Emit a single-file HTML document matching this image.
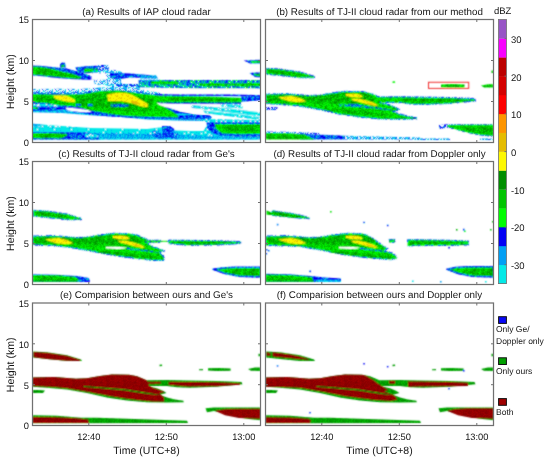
<!DOCTYPE html><html><head><meta charset="utf-8"><style>html,body{margin:0;padding:0;background:#fff;overflow:hidden}svg{display:block}text{text-rendering:geometricPrecision;font-family:"Liberation Sans",Arial,sans-serif;fill:#141414}</style></head><body>
<svg width="550" height="461" viewBox="0 0 550 461">
<rect width="550" height="461" fill="#fff"/>
<defs><pattern id="gm" patternUnits="userSpaceOnUse" x="0" y="0" width="17" height="17"><rect width="17" height="17" fill="#02fd02"/><path fill="#01c501" d="M0 0h1v1h-1zM3 0h1v1h-1zM8 0h1v1h-1zM9 0h1v1h-1zM13 0h1v1h-1zM16 0h1v1h-1zM2 1h1v1h-1zM3 1h1v1h-1zM6 1h1v1h-1zM7 1h1v1h-1zM9 1h1v1h-1zM10 1h1v1h-1zM13 1h1v1h-1zM14 1h1v1h-1zM15 1h1v1h-1zM0 2h1v1h-1zM1 2h1v1h-1zM5 2h1v1h-1zM8 2h1v1h-1zM9 2h1v1h-1zM16 2h1v1h-1zM5 3h1v1h-1zM6 3h1v1h-1zM9 3h1v1h-1zM13 3h1v1h-1zM1 4h1v1h-1zM3 4h1v1h-1zM4 4h1v1h-1zM8 4h1v1h-1zM9 4h1v1h-1zM15 4h1v1h-1zM3 5h1v1h-1zM6 5h1v1h-1zM15 5h1v1h-1zM1 6h1v1h-1zM4 6h1v1h-1zM5 6h1v1h-1zM10 6h1v1h-1zM11 6h1v1h-1zM12 6h1v1h-1zM1 7h1v1h-1zM4 7h1v1h-1zM5 7h1v1h-1zM6 7h1v1h-1zM8 7h1v1h-1zM9 7h1v1h-1zM11 7h1v1h-1zM12 7h1v1h-1zM13 7h1v1h-1zM15 7h1v1h-1zM16 7h1v1h-1zM2 8h1v1h-1zM4 8h1v1h-1zM5 8h1v1h-1zM7 8h1v1h-1zM8 8h1v1h-1zM11 8h1v1h-1zM14 8h1v1h-1zM15 8h1v1h-1zM16 8h1v1h-1zM1 9h1v1h-1zM5 9h1v1h-1zM9 9h1v1h-1zM11 9h1v1h-1zM13 9h1v1h-1zM15 9h1v1h-1zM16 9h1v1h-1zM2 10h1v1h-1zM4 10h1v1h-1zM8 10h1v1h-1zM9 10h1v1h-1zM11 10h1v1h-1zM15 10h1v1h-1zM3 11h1v1h-1zM4 11h1v1h-1zM5 11h1v1h-1zM8 11h1v1h-1zM9 11h1v1h-1zM11 11h1v1h-1zM13 11h1v1h-1zM16 11h1v1h-1zM0 12h1v1h-1zM1 12h1v1h-1zM4 12h1v1h-1zM5 12h1v1h-1zM9 12h1v1h-1zM14 12h1v1h-1zM16 12h1v1h-1zM0 13h1v1h-1zM2 13h1v1h-1zM6 13h1v1h-1zM7 13h1v1h-1zM8 13h1v1h-1zM13 13h1v1h-1zM15 13h1v1h-1zM16 13h1v1h-1zM0 14h1v1h-1zM4 14h1v1h-1zM7 14h1v1h-1zM9 14h1v1h-1zM10 14h1v1h-1zM11 14h1v1h-1zM16 14h1v1h-1zM2 15h1v1h-1zM4 15h1v1h-1zM5 15h1v1h-1zM7 15h1v1h-1zM8 15h1v1h-1zM11 15h1v1h-1zM12 15h1v1h-1zM13 15h1v1h-1zM15 15h1v1h-1zM0 16h1v1h-1zM3 16h1v1h-1zM4 16h1v1h-1zM6 16h1v1h-1zM8 16h1v1h-1zM9 16h1v1h-1zM11 16h1v1h-1zM14 16h1v1h-1zM15 16h1v1h-1z"/><path fill="#008e00" d="M4 0h1v1h-1zM5 0h1v1h-1zM11 0h1v1h-1zM14 0h1v1h-1zM8 1h1v1h-1zM11 1h1v1h-1zM12 1h1v1h-1zM16 1h1v1h-1zM13 2h1v1h-1zM3 3h1v1h-1zM8 3h1v1h-1zM14 3h1v1h-1zM15 3h1v1h-1zM2 4h1v1h-1zM10 4h1v1h-1zM16 4h1v1h-1zM2 5h1v1h-1zM12 5h1v1h-1zM14 5h1v1h-1zM2 6h1v1h-1zM3 6h1v1h-1zM9 6h1v1h-1zM1 8h1v1h-1zM3 8h1v1h-1zM6 8h1v1h-1zM10 8h1v1h-1zM8 9h1v1h-1zM7 10h1v1h-1zM2 11h1v1h-1zM7 11h1v1h-1zM12 11h1v1h-1zM12 12h1v1h-1zM15 14h1v1h-1zM10 15h1v1h-1zM5 16h1v1h-1zM13 16h1v1h-1z"/></pattern><pattern id="gd" patternUnits="userSpaceOnUse" x="0" y="0" width="17" height="17"><rect width="17" height="17" fill="#01c501"/><path fill="#02fd02" d="M2 0h1v1h-1zM3 0h1v1h-1zM3 1h1v1h-1zM4 1h1v1h-1zM12 1h1v1h-1zM13 4h1v1h-1zM2 5h1v1h-1zM7 5h1v1h-1zM15 5h1v1h-1zM2 6h1v1h-1zM4 6h1v1h-1zM6 6h1v1h-1zM13 6h1v1h-1zM16 6h1v1h-1zM3 7h1v1h-1zM5 7h1v1h-1zM0 8h1v1h-1zM12 8h1v1h-1zM15 8h1v1h-1zM16 8h1v1h-1zM1 9h1v1h-1zM0 10h1v1h-1zM1 10h1v1h-1zM3 10h1v1h-1zM6 10h1v1h-1zM4 11h1v1h-1zM8 11h1v1h-1zM0 12h1v1h-1zM2 12h1v1h-1zM6 12h1v1h-1zM12 12h1v1h-1zM16 12h1v1h-1zM9 13h1v1h-1zM14 13h1v1h-1zM4 15h1v1h-1zM9 15h1v1h-1zM10 15h1v1h-1zM4 16h1v1h-1zM8 16h1v1h-1z"/><path fill="#008e00" d="M7 0h1v1h-1zM11 0h1v1h-1zM12 0h1v1h-1zM13 0h1v1h-1zM1 1h1v1h-1zM2 1h1v1h-1zM5 1h1v1h-1zM6 1h1v1h-1zM7 1h1v1h-1zM11 1h1v1h-1zM13 1h1v1h-1zM14 1h1v1h-1zM15 1h1v1h-1zM1 2h1v1h-1zM8 2h1v1h-1zM11 2h1v1h-1zM14 2h1v1h-1zM16 2h1v1h-1zM1 3h1v1h-1zM3 3h1v1h-1zM6 3h1v1h-1zM10 3h1v1h-1zM11 3h1v1h-1zM12 3h1v1h-1zM14 3h1v1h-1zM16 3h1v1h-1zM1 4h1v1h-1zM4 4h1v1h-1zM5 4h1v1h-1zM8 4h1v1h-1zM9 4h1v1h-1zM10 4h1v1h-1zM0 5h1v1h-1zM4 5h1v1h-1zM5 5h1v1h-1zM10 5h1v1h-1zM11 5h1v1h-1zM13 5h1v1h-1zM16 5h1v1h-1zM0 6h1v1h-1zM7 6h1v1h-1zM9 6h1v1h-1zM10 6h1v1h-1zM12 6h1v1h-1zM15 6h1v1h-1zM0 7h1v1h-1zM4 7h1v1h-1zM6 7h1v1h-1zM13 7h1v1h-1zM14 7h1v1h-1zM16 7h1v1h-1zM1 8h1v1h-1zM3 8h1v1h-1zM5 8h1v1h-1zM6 8h1v1h-1zM7 8h1v1h-1zM9 8h1v1h-1zM11 8h1v1h-1zM14 8h1v1h-1zM0 9h1v1h-1zM3 9h1v1h-1zM7 9h1v1h-1zM8 9h1v1h-1zM9 9h1v1h-1zM14 9h1v1h-1zM15 9h1v1h-1zM2 10h1v1h-1zM5 10h1v1h-1zM7 10h1v1h-1zM8 10h1v1h-1zM9 10h1v1h-1zM11 10h1v1h-1zM12 10h1v1h-1zM14 10h1v1h-1zM1 11h1v1h-1zM2 11h1v1h-1zM5 11h1v1h-1zM7 11h1v1h-1zM10 11h1v1h-1zM11 11h1v1h-1zM14 11h1v1h-1zM16 11h1v1h-1zM3 12h1v1h-1zM7 12h1v1h-1zM8 12h1v1h-1zM9 12h1v1h-1zM10 12h1v1h-1zM13 12h1v1h-1zM14 12h1v1h-1zM1 13h1v1h-1zM3 13h1v1h-1zM4 13h1v1h-1zM6 13h1v1h-1zM7 13h1v1h-1zM8 13h1v1h-1zM1 14h1v1h-1zM2 14h1v1h-1zM3 14h1v1h-1zM5 14h1v1h-1zM7 14h1v1h-1zM12 14h1v1h-1zM13 14h1v1h-1zM14 14h1v1h-1zM15 14h1v1h-1zM16 14h1v1h-1zM5 15h1v1h-1zM7 15h1v1h-1zM8 15h1v1h-1zM14 15h1v1h-1zM15 15h1v1h-1zM16 15h1v1h-1zM2 16h1v1h-1zM9 16h1v1h-1zM11 16h1v1h-1zM13 16h1v1h-1zM15 16h1v1h-1z"/></pattern><pattern id="gk" patternUnits="userSpaceOnUse" x="0" y="0" width="13" height="13"><rect width="13" height="13" fill="#008e00"/><path fill="#01c501" d="M0 0h1v1h-1zM2 0h1v1h-1zM5 0h1v1h-1zM6 0h1v1h-1zM8 0h1v1h-1zM9 0h1v1h-1zM2 1h1v1h-1zM8 1h1v1h-1zM11 1h1v1h-1zM12 1h1v1h-1zM6 2h1v1h-1zM11 2h1v1h-1zM12 2h1v1h-1zM0 3h1v1h-1zM4 3h1v1h-1zM6 3h1v1h-1zM7 3h1v1h-1zM3 4h1v1h-1zM9 4h1v1h-1zM12 4h1v1h-1zM0 5h1v1h-1zM3 5h1v1h-1zM6 5h1v1h-1zM7 5h1v1h-1zM10 5h1v1h-1zM12 5h1v1h-1zM1 6h1v1h-1zM6 6h1v1h-1zM7 6h1v1h-1zM9 6h1v1h-1zM10 6h1v1h-1zM0 7h1v1h-1zM1 7h1v1h-1zM3 7h1v1h-1zM6 7h1v1h-1zM4 8h1v1h-1zM5 8h1v1h-1zM9 8h1v1h-1zM12 8h1v1h-1zM2 9h1v1h-1zM6 9h1v1h-1zM9 9h1v1h-1zM10 9h1v1h-1zM0 10h1v1h-1zM3 10h1v1h-1zM4 10h1v1h-1zM5 10h1v1h-1zM6 10h1v1h-1zM8 10h1v1h-1zM9 10h1v1h-1zM11 10h1v1h-1zM1 11h1v1h-1zM2 11h1v1h-1zM4 11h1v1h-1zM5 11h1v1h-1zM8 11h1v1h-1zM9 11h1v1h-1zM10 11h1v1h-1zM1 12h1v1h-1zM2 12h1v1h-1zM6 12h1v1h-1zM7 12h1v1h-1zM9 12h1v1h-1zM12 12h1v1h-1z"/><path fill="#02fd02" d="M11 0h1v1h-1zM0 1h1v1h-1zM1 2h1v1h-1zM8 2h1v1h-1zM2 3h1v1h-1zM5 5h1v1h-1zM11 6h1v1h-1zM7 7h1v1h-1zM2 8h1v1h-1zM10 8h1v1h-1zM4 9h1v1h-1zM1 10h1v1h-1zM6 11h1v1h-1zM12 11h1v1h-1zM5 12h1v1h-1z"/></pattern><pattern id="bs" patternUnits="userSpaceOnUse" x="0" y="0" width="13" height="13"><path fill="#0300f4" d="M0 0h1v1h-1zM1 0h1v1h-1zM2 0h1v1h-1zM3 0h1v1h-1zM4 0h1v1h-1zM5 0h1v1h-1zM9 0h1v1h-1zM10 0h1v1h-1zM11 0h1v1h-1zM12 0h1v1h-1zM0 1h1v1h-1zM1 1h1v1h-1zM6 1h1v1h-1zM7 1h1v1h-1zM12 1h1v1h-1zM2 2h1v1h-1zM3 2h1v1h-1zM4 2h1v1h-1zM5 2h1v1h-1zM8 2h1v1h-1zM9 2h1v1h-1zM1 3h1v1h-1zM2 3h1v1h-1zM4 3h1v1h-1zM5 3h1v1h-1zM6 3h1v1h-1zM8 3h1v1h-1zM9 3h1v1h-1zM11 3h1v1h-1zM12 3h1v1h-1zM0 4h1v1h-1zM1 4h1v1h-1zM3 4h1v1h-1zM4 4h1v1h-1zM5 4h1v1h-1zM7 4h1v1h-1zM8 4h1v1h-1zM10 4h1v1h-1zM0 5h1v1h-1zM1 5h1v1h-1zM2 5h1v1h-1zM5 5h1v1h-1zM6 5h1v1h-1zM7 5h1v1h-1zM8 5h1v1h-1zM9 5h1v1h-1zM2 6h1v1h-1zM3 6h1v1h-1zM6 6h1v1h-1zM10 6h1v1h-1zM11 6h1v1h-1zM12 6h1v1h-1zM0 7h1v1h-1zM1 7h1v1h-1zM3 7h1v1h-1zM4 7h1v1h-1zM5 7h1v1h-1zM6 7h1v1h-1zM8 7h1v1h-1zM9 7h1v1h-1zM10 7h1v1h-1zM12 7h1v1h-1zM0 8h1v1h-1zM1 8h1v1h-1zM2 8h1v1h-1zM3 8h1v1h-1zM5 8h1v1h-1zM6 8h1v1h-1zM7 8h1v1h-1zM8 8h1v1h-1zM10 8h1v1h-1zM11 8h1v1h-1zM0 9h1v1h-1zM2 9h1v1h-1zM3 9h1v1h-1zM4 9h1v1h-1zM5 9h1v1h-1zM6 9h1v1h-1zM7 9h1v1h-1zM10 9h1v1h-1zM11 9h1v1h-1zM12 9h1v1h-1zM0 10h1v1h-1zM1 10h1v1h-1zM2 10h1v1h-1zM4 10h1v1h-1zM5 10h1v1h-1zM9 10h1v1h-1zM1 11h1v1h-1zM2 11h1v1h-1zM3 11h1v1h-1zM7 11h1v1h-1zM12 11h1v1h-1zM2 12h1v1h-1zM5 12h1v1h-1zM9 12h1v1h-1zM11 12h1v1h-1z"/><path fill="#019ff4" d="M8 1h1v1h-1zM0 2h1v1h-1zM11 2h1v1h-1zM3 3h1v1h-1zM10 3h1v1h-1zM6 4h1v1h-1zM11 4h1v1h-1zM4 5h1v1h-1zM8 6h1v1h-1zM7 10h1v1h-1zM10 11h1v1h-1z"/></pattern><pattern id="ys" patternUnits="userSpaceOnUse" x="0" y="0" width="11" height="11"><rect width="11" height="11" fill="#fdf802"/><path fill="#e5bc00" d="M6 0h1v1h-1zM0 1h1v1h-1zM5 1h1v1h-1zM1 2h1v1h-1zM3 2h1v1h-1zM4 2h1v1h-1zM0 4h1v1h-1zM1 4h1v1h-1zM4 4h1v1h-1zM2 5h1v1h-1zM4 5h1v1h-1zM7 5h1v1h-1zM0 6h1v1h-1zM1 6h1v1h-1zM1 7h1v1h-1zM5 7h1v1h-1zM7 7h1v1h-1zM6 8h1v1h-1zM7 8h1v1h-1zM0 9h1v1h-1zM9 9h1v1h-1zM0 10h1v1h-1zM3 10h1v1h-1zM8 10h1v1h-1zM10 10h1v1h-1z"/></pattern><pattern id="rm" patternUnits="userSpaceOnUse" x="0" y="0" width="17" height="17"><rect width="17" height="17" fill="#920000"/><path fill="#7c0000" d="M3 0h1v1h-1zM4 0h1v1h-1zM10 0h1v1h-1zM16 0h1v1h-1zM2 1h1v1h-1zM7 1h1v1h-1zM11 1h1v1h-1zM12 1h1v1h-1zM14 1h1v1h-1zM0 2h1v1h-1zM10 2h1v1h-1zM15 2h1v1h-1zM1 3h1v1h-1zM4 3h1v1h-1zM6 3h1v1h-1zM7 3h1v1h-1zM10 3h1v1h-1zM12 3h1v1h-1zM2 4h1v1h-1zM4 4h1v1h-1zM9 4h1v1h-1zM4 5h1v1h-1zM6 5h1v1h-1zM9 5h1v1h-1zM10 5h1v1h-1zM11 5h1v1h-1zM14 5h1v1h-1zM0 6h1v1h-1zM4 6h1v1h-1zM7 6h1v1h-1zM5 7h1v1h-1zM6 7h1v1h-1zM8 7h1v1h-1zM9 7h1v1h-1zM11 7h1v1h-1zM16 7h1v1h-1zM0 8h1v1h-1zM8 8h1v1h-1zM10 8h1v1h-1zM13 8h1v1h-1zM15 8h1v1h-1zM16 8h1v1h-1zM5 9h1v1h-1zM7 9h1v1h-1zM15 9h1v1h-1zM4 10h1v1h-1zM6 10h1v1h-1zM9 10h1v1h-1zM11 10h1v1h-1zM13 10h1v1h-1zM0 11h1v1h-1zM1 11h1v1h-1zM5 11h1v1h-1zM6 11h1v1h-1zM8 11h1v1h-1zM14 11h1v1h-1zM16 11h1v1h-1zM3 12h1v1h-1zM4 12h1v1h-1zM6 12h1v1h-1zM8 12h1v1h-1zM9 12h1v1h-1zM10 12h1v1h-1zM13 12h1v1h-1zM14 12h1v1h-1zM1 13h1v1h-1zM3 13h1v1h-1zM7 13h1v1h-1zM4 14h1v1h-1zM7 14h1v1h-1zM8 14h1v1h-1zM10 14h1v1h-1zM12 14h1v1h-1zM14 14h1v1h-1zM0 15h1v1h-1zM3 15h1v1h-1zM7 15h1v1h-1zM9 15h1v1h-1zM10 15h1v1h-1zM12 15h1v1h-1zM1 16h1v1h-1zM3 16h1v1h-1zM7 16h1v1h-1zM9 16h1v1h-1zM16 16h1v1h-1z"/><path fill="#aa0000" d="M8 0h1v1h-1zM13 0h1v1h-1zM6 1h1v1h-1zM10 1h1v1h-1zM2 2h1v1h-1zM11 2h1v1h-1zM13 2h1v1h-1zM3 3h1v1h-1zM13 3h1v1h-1zM16 3h1v1h-1zM0 4h1v1h-1zM1 4h1v1h-1zM5 4h1v1h-1zM7 4h1v1h-1zM14 4h1v1h-1zM3 5h1v1h-1zM13 5h1v1h-1zM1 6h1v1h-1zM8 6h1v1h-1zM9 6h1v1h-1zM11 6h1v1h-1zM15 6h1v1h-1zM0 7h1v1h-1zM1 7h1v1h-1zM7 7h1v1h-1zM13 7h1v1h-1zM3 8h1v1h-1zM9 8h1v1h-1zM1 10h1v1h-1zM3 10h1v1h-1zM15 10h1v1h-1zM7 11h1v1h-1zM13 11h1v1h-1zM12 12h1v1h-1zM0 13h1v1h-1zM2 13h1v1h-1zM8 13h1v1h-1zM9 13h1v1h-1zM10 13h1v1h-1zM11 13h1v1h-1zM1 14h1v1h-1zM6 14h1v1h-1zM13 14h1v1h-1zM2 16h1v1h-1z"/></pattern><pattern id="gs" patternUnits="userSpaceOnUse" x="0" y="0" width="13" height="13"><rect width="13" height="13" fill="#00a000"/><path fill="#008800" d="M1 0h1v1h-1zM3 0h1v1h-1zM6 0h1v1h-1zM8 0h1v1h-1zM10 0h1v1h-1zM11 0h1v1h-1zM1 1h1v1h-1zM2 1h1v1h-1zM8 1h1v1h-1zM10 1h1v1h-1zM11 1h1v1h-1zM12 1h1v1h-1zM2 2h1v1h-1zM7 2h1v1h-1zM8 2h1v1h-1zM9 2h1v1h-1zM2 3h1v1h-1zM5 3h1v1h-1zM10 3h1v1h-1zM12 3h1v1h-1zM2 4h1v1h-1zM4 4h1v1h-1zM5 5h1v1h-1zM10 5h1v1h-1zM0 6h1v1h-1zM2 6h1v1h-1zM3 6h1v1h-1zM4 6h1v1h-1zM6 6h1v1h-1zM7 6h1v1h-1zM10 6h1v1h-1zM3 7h1v1h-1zM8 7h1v1h-1zM9 7h1v1h-1zM10 7h1v1h-1zM11 7h1v1h-1zM1 8h1v1h-1zM2 8h1v1h-1zM11 8h1v1h-1zM5 9h1v1h-1zM7 9h1v1h-1zM8 9h1v1h-1zM9 9h1v1h-1zM10 9h1v1h-1zM12 9h1v1h-1zM0 10h1v1h-1zM1 10h1v1h-1zM2 10h1v1h-1zM4 10h1v1h-1zM7 10h1v1h-1zM8 10h1v1h-1zM11 10h1v1h-1zM3 11h1v1h-1zM4 11h1v1h-1zM6 11h1v1h-1zM8 11h1v1h-1zM9 11h1v1h-1zM12 11h1v1h-1zM1 12h1v1h-1zM6 12h1v1h-1zM8 12h1v1h-1z"/><path fill="#00c000" d="M0 0h1v1h-1zM5 0h1v1h-1zM9 0h1v1h-1zM12 0h1v1h-1zM6 1h1v1h-1zM0 2h1v1h-1zM5 2h1v1h-1zM11 2h1v1h-1zM12 2h1v1h-1zM1 3h1v1h-1zM0 4h1v1h-1zM3 4h1v1h-1zM9 4h1v1h-1zM0 5h1v1h-1zM3 5h1v1h-1zM11 5h1v1h-1zM1 6h1v1h-1zM8 6h1v1h-1zM11 6h1v1h-1zM4 7h1v1h-1zM5 7h1v1h-1zM12 7h1v1h-1zM3 8h1v1h-1zM4 8h1v1h-1zM3 9h1v1h-1zM4 9h1v1h-1zM11 9h1v1h-1zM3 10h1v1h-1zM9 10h1v1h-1zM10 10h1v1h-1zM1 11h1v1h-1zM2 11h1v1h-1zM5 11h1v1h-1zM7 12h1v1h-1zM12 12h1v1h-1z"/></pattern><pattern id="cb" patternUnits="userSpaceOnUse" x="0" y="0" width="17" height="17"><rect width="17" height="17" fill="#04e9e7"/><path fill="#019ff4" d="M4 0h1v1h-1zM14 0h1v1h-1zM16 0h1v1h-1zM4 1h1v1h-1zM7 1h1v1h-1zM1 2h1v1h-1zM14 2h1v1h-1zM7 3h1v1h-1zM13 3h1v1h-1zM11 4h1v1h-1zM5 5h1v1h-1zM6 5h1v1h-1zM7 5h1v1h-1zM14 5h1v1h-1zM15 5h1v1h-1zM5 6h1v1h-1zM9 6h1v1h-1zM0 7h1v1h-1zM1 8h1v1h-1zM5 8h1v1h-1zM8 8h1v1h-1zM1 9h1v1h-1zM5 11h1v1h-1zM9 11h1v1h-1zM4 13h1v1h-1zM9 13h1v1h-1zM14 13h1v1h-1zM11 14h1v1h-1zM2 15h1v1h-1zM7 15h1v1h-1zM8 15h1v1h-1zM9 16h1v1h-1z"/><path fill="#ffffff" d="M2 0h1v1h-1zM12 0h1v1h-1zM0 2h1v1h-1zM4 2h1v1h-1zM12 2h1v1h-1zM3 3h1v1h-1zM4 3h1v1h-1zM3 4h1v1h-1zM5 4h1v1h-1zM14 4h1v1h-1zM16 5h1v1h-1zM14 6h1v1h-1zM4 7h1v1h-1zM5 7h1v1h-1zM8 7h1v1h-1zM16 7h1v1h-1zM3 10h1v1h-1zM1 13h1v1h-1zM14 14h1v1h-1zM5 15h1v1h-1zM4 16h1v1h-1zM7 16h1v1h-1z"/></pattern><pattern id="lb" patternUnits="userSpaceOnUse" x="0" y="0" width="17" height="17"><rect width="17" height="17" fill="#019ff4"/><path fill="#04e9e7" d="M2 0h1v1h-1zM4 0h1v1h-1zM7 0h1v1h-1zM10 0h1v1h-1zM15 0h1v1h-1zM16 0h1v1h-1zM0 1h1v1h-1zM7 1h1v1h-1zM12 1h1v1h-1zM14 1h1v1h-1zM0 2h1v1h-1zM3 2h1v1h-1zM6 2h1v1h-1zM9 2h1v1h-1zM11 2h1v1h-1zM14 2h1v1h-1zM15 2h1v1h-1zM16 2h1v1h-1zM1 3h1v1h-1zM2 3h1v1h-1zM8 3h1v1h-1zM10 3h1v1h-1zM13 3h1v1h-1zM16 3h1v1h-1zM3 4h1v1h-1zM6 4h1v1h-1zM8 4h1v1h-1zM13 4h1v1h-1zM4 5h1v1h-1zM8 5h1v1h-1zM11 5h1v1h-1zM13 5h1v1h-1zM15 5h1v1h-1zM3 6h1v1h-1zM6 6h1v1h-1zM13 6h1v1h-1zM16 6h1v1h-1zM1 7h1v1h-1zM5 7h1v1h-1zM6 7h1v1h-1zM7 7h1v1h-1zM12 7h1v1h-1zM14 7h1v1h-1zM15 7h1v1h-1zM1 8h1v1h-1zM7 8h1v1h-1zM12 8h1v1h-1zM13 8h1v1h-1zM15 8h1v1h-1zM0 9h1v1h-1zM2 9h1v1h-1zM3 9h1v1h-1zM4 9h1v1h-1zM8 9h1v1h-1zM13 9h1v1h-1zM3 10h1v1h-1zM9 10h1v1h-1zM14 10h1v1h-1zM1 11h1v1h-1zM6 11h1v1h-1zM11 11h1v1h-1zM12 11h1v1h-1zM14 11h1v1h-1zM15 11h1v1h-1zM2 12h1v1h-1zM6 12h1v1h-1zM12 12h1v1h-1zM14 12h1v1h-1zM16 12h1v1h-1zM0 13h1v1h-1zM1 13h1v1h-1zM2 13h1v1h-1zM11 13h1v1h-1zM14 13h1v1h-1zM0 14h1v1h-1zM1 14h1v1h-1zM3 14h1v1h-1zM7 14h1v1h-1zM8 14h1v1h-1zM2 15h1v1h-1zM4 15h1v1h-1zM10 15h1v1h-1zM16 15h1v1h-1zM2 16h1v1h-1zM4 16h1v1h-1zM7 16h1v1h-1zM15 16h1v1h-1z"/><path fill="#0300f4" d="M8 1h1v1h-1zM13 1h1v1h-1zM15 1h1v1h-1zM0 4h1v1h-1zM14 4h1v1h-1zM6 5h1v1h-1zM10 5h1v1h-1zM15 6h1v1h-1zM6 10h1v1h-1zM4 12h1v1h-1zM13 12h1v1h-1zM12 13h1v1h-1zM4 14h1v1h-1zM9 14h1v1h-1zM10 14h1v1h-1zM3 15h1v1h-1zM7 15h1v1h-1zM11 15h1v1h-1zM1 16h1v1h-1zM9 16h1v1h-1z"/></pattern><pattern id="bb" patternUnits="userSpaceOnUse" x="0" y="0" width="17" height="17"><rect width="17" height="17" fill="#0300f4"/><path fill="#019ff4" d="M7 0h1v1h-1zM13 0h1v1h-1zM5 1h1v1h-1zM10 1h1v1h-1zM11 1h1v1h-1zM12 1h1v1h-1zM3 2h1v1h-1zM6 2h1v1h-1zM9 2h1v1h-1zM15 2h1v1h-1zM2 3h1v1h-1zM4 3h1v1h-1zM5 3h1v1h-1zM13 3h1v1h-1zM14 3h1v1h-1zM16 3h1v1h-1zM6 4h1v1h-1zM10 4h1v1h-1zM4 5h1v1h-1zM12 5h1v1h-1zM16 5h1v1h-1zM0 6h1v1h-1zM2 6h1v1h-1zM3 6h1v1h-1zM4 6h1v1h-1zM1 7h1v1h-1zM15 7h1v1h-1zM5 8h1v1h-1zM8 8h1v1h-1zM10 8h1v1h-1zM11 8h1v1h-1zM13 8h1v1h-1zM15 9h1v1h-1zM0 10h1v1h-1zM1 10h1v1h-1zM9 11h1v1h-1zM12 11h1v1h-1zM1 12h1v1h-1zM2 12h1v1h-1zM3 12h1v1h-1zM9 12h1v1h-1zM14 12h1v1h-1zM6 13h1v1h-1zM8 13h1v1h-1zM13 13h1v1h-1zM14 13h1v1h-1zM1 14h1v1h-1zM8 14h1v1h-1zM14 14h1v1h-1zM3 15h1v1h-1zM5 15h1v1h-1zM7 15h1v1h-1zM14 15h1v1h-1zM15 15h1v1h-1zM1 16h1v1h-1zM2 16h1v1h-1zM5 16h1v1h-1zM7 16h1v1h-1zM11 16h1v1h-1zM12 16h1v1h-1z"/><path fill="#02fd02" d="M3 0h1v1h-1zM10 0h1v1h-1zM7 2h1v1h-1zM10 3h1v1h-1zM16 4h1v1h-1zM2 7h1v1h-1zM12 8h1v1h-1zM10 9h1v1h-1zM6 12h1v1h-1zM15 12h1v1h-1z"/></pattern><pattern id="bsp" patternUnits="userSpaceOnUse" x="0" y="0" width="13" height="13"><path fill="#0300f4" d="M6 0h1v1h-1zM10 0h1v1h-1zM11 0h1v1h-1zM12 0h1v1h-1zM2 1h1v1h-1zM7 1h1v1h-1zM8 1h1v1h-1zM10 1h1v1h-1zM11 1h1v1h-1zM12 1h1v1h-1zM0 2h1v1h-1zM9 2h1v1h-1zM1 3h1v1h-1zM2 3h1v1h-1zM3 3h1v1h-1zM4 3h1v1h-1zM6 3h1v1h-1zM8 3h1v1h-1zM11 3h1v1h-1zM12 3h1v1h-1zM3 4h1v1h-1zM4 4h1v1h-1zM7 4h1v1h-1zM8 4h1v1h-1zM9 4h1v1h-1zM12 4h1v1h-1zM0 5h1v1h-1zM1 5h1v1h-1zM2 5h1v1h-1zM4 5h1v1h-1zM7 5h1v1h-1zM9 5h1v1h-1zM11 5h1v1h-1zM0 6h1v1h-1zM1 6h1v1h-1zM4 6h1v1h-1zM6 6h1v1h-1zM7 6h1v1h-1zM10 6h1v1h-1zM12 6h1v1h-1zM0 7h1v1h-1zM2 7h1v1h-1zM3 7h1v1h-1zM4 7h1v1h-1zM5 7h1v1h-1zM7 7h1v1h-1zM9 7h1v1h-1zM2 8h1v1h-1zM3 8h1v1h-1zM6 8h1v1h-1zM7 8h1v1h-1zM10 8h1v1h-1zM2 9h1v1h-1zM3 9h1v1h-1zM5 9h1v1h-1zM7 9h1v1h-1zM10 9h1v1h-1zM11 9h1v1h-1zM0 10h1v1h-1zM1 10h1v1h-1zM5 10h1v1h-1zM7 10h1v1h-1zM8 10h1v1h-1zM9 10h1v1h-1zM11 10h1v1h-1zM12 10h1v1h-1zM0 11h1v1h-1zM2 11h1v1h-1zM3 11h1v1h-1zM9 11h1v1h-1zM10 11h1v1h-1zM11 11h1v1h-1zM2 12h1v1h-1zM6 12h1v1h-1zM8 12h1v1h-1z"/><path fill="#019ff4" d="M0 0h1v1h-1zM1 0h1v1h-1zM3 0h1v1h-1zM4 0h1v1h-1zM7 0h1v1h-1zM9 1h1v1h-1zM1 2h1v1h-1zM2 2h1v1h-1zM4 2h1v1h-1zM6 2h1v1h-1zM8 2h1v1h-1zM1 4h1v1h-1zM5 5h1v1h-1zM6 5h1v1h-1zM12 5h1v1h-1zM10 7h1v1h-1zM12 7h1v1h-1zM1 9h1v1h-1zM2 10h1v1h-1zM10 10h1v1h-1zM4 12h1v1h-1zM9 12h1v1h-1z"/></pattern><pattern id="lbs" patternUnits="userSpaceOnUse" x="0" y="0" width="13" height="13"><path fill="#019ff4" d="M3 0h1v1h-1zM4 0h1v1h-1zM5 0h1v1h-1zM6 0h1v1h-1zM12 0h1v1h-1zM1 1h1v1h-1zM3 1h1v1h-1zM5 1h1v1h-1zM7 1h1v1h-1zM10 1h1v1h-1zM11 1h1v1h-1zM1 2h1v1h-1zM4 2h1v1h-1zM6 2h1v1h-1zM7 2h1v1h-1zM9 2h1v1h-1zM11 2h1v1h-1zM12 2h1v1h-1zM5 3h1v1h-1zM6 3h1v1h-1zM11 3h1v1h-1zM12 3h1v1h-1zM2 4h1v1h-1zM3 4h1v1h-1zM4 4h1v1h-1zM8 4h1v1h-1zM12 4h1v1h-1zM1 5h1v1h-1zM3 5h1v1h-1zM5 5h1v1h-1zM7 5h1v1h-1zM8 5h1v1h-1zM9 5h1v1h-1zM11 5h1v1h-1zM0 6h1v1h-1zM1 6h1v1h-1zM6 6h1v1h-1zM8 6h1v1h-1zM9 6h1v1h-1zM12 6h1v1h-1zM0 7h1v1h-1zM2 7h1v1h-1zM3 7h1v1h-1zM4 7h1v1h-1zM5 7h1v1h-1zM10 7h1v1h-1zM11 7h1v1h-1zM2 8h1v1h-1zM6 8h1v1h-1zM9 8h1v1h-1zM10 8h1v1h-1zM12 8h1v1h-1zM4 9h1v1h-1zM5 9h1v1h-1zM6 9h1v1h-1zM9 9h1v1h-1zM12 9h1v1h-1zM12 10h1v1h-1zM0 11h1v1h-1zM3 11h1v1h-1zM11 11h1v1h-1zM12 11h1v1h-1zM0 12h1v1h-1zM1 12h1v1h-1zM6 12h1v1h-1zM9 12h1v1h-1zM10 12h1v1h-1zM12 12h1v1h-1z"/><path fill="#04e9e7" d="M0 0h1v1h-1zM10 0h1v1h-1zM0 1h1v1h-1zM8 1h1v1h-1zM0 2h1v1h-1zM5 2h1v1h-1zM1 3h1v1h-1zM2 3h1v1h-1zM3 3h1v1h-1zM4 3h1v1h-1zM5 4h1v1h-1zM7 4h1v1h-1zM10 4h1v1h-1zM11 4h1v1h-1zM0 5h1v1h-1zM4 5h1v1h-1zM12 5h1v1h-1zM2 6h1v1h-1zM4 6h1v1h-1zM9 7h1v1h-1zM3 8h1v1h-1zM4 8h1v1h-1zM1 9h1v1h-1zM11 9h1v1h-1zM0 10h1v1h-1zM2 10h1v1h-1zM7 10h1v1h-1zM8 10h1v1h-1zM11 10h1v1h-1zM2 11h1v1h-1zM9 11h1v1h-1zM4 12h1v1h-1zM7 12h1v1h-1zM11 12h1v1h-1z"/><path fill="#0300f4" d="M1 0h1v1h-1zM2 0h1v1h-1zM8 0h1v1h-1zM9 0h1v1h-1zM11 0h1v1h-1zM6 1h1v1h-1zM8 2h1v1h-1zM10 2h1v1h-1zM10 3h1v1h-1zM0 4h1v1h-1zM1 4h1v1h-1zM6 5h1v1h-1zM10 5h1v1h-1zM6 7h1v1h-1zM1 8h1v1h-1zM5 8h1v1h-1zM2 9h1v1h-1zM7 9h1v1h-1zM8 9h1v1h-1zM3 10h1v1h-1zM3 12h1v1h-1zM5 12h1v1h-1z"/></pattern><pattern id="mixA" patternUnits="userSpaceOnUse" x="0" y="0" width="19" height="19"><path fill="#0300f4" d="M0 0h1v1h-1zM4 0h1v1h-1zM5 0h1v1h-1zM6 0h1v1h-1zM7 0h1v1h-1zM9 0h1v1h-1zM11 0h1v1h-1zM12 0h1v1h-1zM16 0h1v1h-1zM17 0h1v1h-1zM18 0h1v1h-1zM7 1h1v1h-1zM13 1h1v1h-1zM15 1h1v1h-1zM16 1h1v1h-1zM4 2h1v1h-1zM7 2h1v1h-1zM8 2h1v1h-1zM10 2h1v1h-1zM14 2h1v1h-1zM16 2h1v1h-1zM17 2h1v1h-1zM18 2h1v1h-1zM0 3h1v1h-1zM1 3h1v1h-1zM7 3h1v1h-1zM8 3h1v1h-1zM12 3h1v1h-1zM17 3h1v1h-1zM0 4h1v1h-1zM2 4h1v1h-1zM6 4h1v1h-1zM10 4h1v1h-1zM12 4h1v1h-1zM13 4h1v1h-1zM14 4h1v1h-1zM16 4h1v1h-1zM17 4h1v1h-1zM18 4h1v1h-1zM3 5h1v1h-1zM5 5h1v1h-1zM6 5h1v1h-1zM7 5h1v1h-1zM9 5h1v1h-1zM10 5h1v1h-1zM11 5h1v1h-1zM13 5h1v1h-1zM15 5h1v1h-1zM17 5h1v1h-1zM18 5h1v1h-1zM5 6h1v1h-1zM6 6h1v1h-1zM10 6h1v1h-1zM13 6h1v1h-1zM15 6h1v1h-1zM16 6h1v1h-1zM17 6h1v1h-1zM18 6h1v1h-1zM0 7h1v1h-1zM1 7h1v1h-1zM3 7h1v1h-1zM6 7h1v1h-1zM8 7h1v1h-1zM11 7h1v1h-1zM12 7h1v1h-1zM14 7h1v1h-1zM16 7h1v1h-1zM18 7h1v1h-1zM0 8h1v1h-1zM2 8h1v1h-1zM3 8h1v1h-1zM4 8h1v1h-1zM8 8h1v1h-1zM10 8h1v1h-1zM12 8h1v1h-1zM15 8h1v1h-1zM16 8h1v1h-1zM17 8h1v1h-1zM0 9h1v1h-1zM2 9h1v1h-1zM3 9h1v1h-1zM5 9h1v1h-1zM16 9h1v1h-1zM17 9h1v1h-1zM2 10h1v1h-1zM4 10h1v1h-1zM5 10h1v1h-1zM6 10h1v1h-1zM7 10h1v1h-1zM9 10h1v1h-1zM18 10h1v1h-1zM1 11h1v1h-1zM2 11h1v1h-1zM5 11h1v1h-1zM8 11h1v1h-1zM9 11h1v1h-1zM10 11h1v1h-1zM11 11h1v1h-1zM13 11h1v1h-1zM1 12h1v1h-1zM5 12h1v1h-1zM6 12h1v1h-1zM8 12h1v1h-1zM10 12h1v1h-1zM12 12h1v1h-1zM13 12h1v1h-1zM15 12h1v1h-1zM1 13h1v1h-1zM6 13h1v1h-1zM8 13h1v1h-1zM10 13h1v1h-1zM11 13h1v1h-1zM14 13h1v1h-1zM17 13h1v1h-1zM0 14h1v1h-1zM3 14h1v1h-1zM4 14h1v1h-1zM5 14h1v1h-1zM10 14h1v1h-1zM0 15h1v1h-1zM1 15h1v1h-1zM4 15h1v1h-1zM18 15h1v1h-1zM3 16h1v1h-1zM4 16h1v1h-1zM14 16h1v1h-1zM15 16h1v1h-1zM16 16h1v1h-1zM17 16h1v1h-1zM18 16h1v1h-1zM1 17h1v1h-1zM3 17h1v1h-1zM4 17h1v1h-1zM6 17h1v1h-1zM7 17h1v1h-1zM8 17h1v1h-1zM9 17h1v1h-1zM11 17h1v1h-1zM12 17h1v1h-1zM13 17h1v1h-1zM15 17h1v1h-1zM16 17h1v1h-1zM5 18h1v1h-1zM6 18h1v1h-1zM11 18h1v1h-1zM15 18h1v1h-1zM16 18h1v1h-1z"/><path fill="#02fd02" d="M10 0h1v1h-1zM13 0h1v1h-1zM15 0h1v1h-1zM9 1h1v1h-1zM11 1h1v1h-1zM12 1h1v1h-1zM14 1h1v1h-1zM2 2h1v1h-1zM5 2h1v1h-1zM6 2h1v1h-1zM9 2h1v1h-1zM11 2h1v1h-1zM12 2h1v1h-1zM13 2h1v1h-1zM15 2h1v1h-1zM2 3h1v1h-1zM4 3h1v1h-1zM11 3h1v1h-1zM13 3h1v1h-1zM4 4h1v1h-1zM7 4h1v1h-1zM8 4h1v1h-1zM9 4h1v1h-1zM0 5h1v1h-1zM1 5h1v1h-1zM2 5h1v1h-1zM4 5h1v1h-1zM12 5h1v1h-1zM14 5h1v1h-1zM0 6h1v1h-1zM2 6h1v1h-1zM3 6h1v1h-1zM4 6h1v1h-1zM7 6h1v1h-1zM14 6h1v1h-1zM2 7h1v1h-1zM5 7h1v1h-1zM9 7h1v1h-1zM10 7h1v1h-1zM13 7h1v1h-1zM1 8h1v1h-1zM5 8h1v1h-1zM9 8h1v1h-1zM14 8h1v1h-1zM1 9h1v1h-1zM7 9h1v1h-1zM9 9h1v1h-1zM11 9h1v1h-1zM12 9h1v1h-1zM13 9h1v1h-1zM18 9h1v1h-1zM1 10h1v1h-1zM14 10h1v1h-1zM15 10h1v1h-1zM4 11h1v1h-1zM7 11h1v1h-1zM16 11h1v1h-1zM0 12h1v1h-1zM2 12h1v1h-1zM4 12h1v1h-1zM7 12h1v1h-1zM9 12h1v1h-1zM14 12h1v1h-1zM17 12h1v1h-1zM18 12h1v1h-1zM3 13h1v1h-1zM4 13h1v1h-1zM12 13h1v1h-1zM15 13h1v1h-1zM16 13h1v1h-1zM18 13h1v1h-1zM1 14h1v1h-1zM7 14h1v1h-1zM17 14h1v1h-1zM18 14h1v1h-1zM3 15h1v1h-1zM5 15h1v1h-1zM6 15h1v1h-1zM7 15h1v1h-1zM10 15h1v1h-1zM12 15h1v1h-1zM13 15h1v1h-1zM14 15h1v1h-1zM16 15h1v1h-1zM0 16h1v1h-1zM5 16h1v1h-1zM6 16h1v1h-1zM10 16h1v1h-1zM11 16h1v1h-1zM12 16h1v1h-1zM10 17h1v1h-1zM17 17h1v1h-1zM0 18h1v1h-1zM7 18h1v1h-1zM8 18h1v1h-1zM9 18h1v1h-1zM13 18h1v1h-1zM14 18h1v1h-1zM17 18h1v1h-1zM18 18h1v1h-1z"/><path fill="#01c501" d="M1 0h1v1h-1zM2 0h1v1h-1zM8 0h1v1h-1zM1 1h1v1h-1zM2 1h1v1h-1zM4 1h1v1h-1zM6 1h1v1h-1zM10 1h1v1h-1zM17 1h1v1h-1zM18 1h1v1h-1zM1 2h1v1h-1zM3 2h1v1h-1zM5 3h1v1h-1zM9 3h1v1h-1zM16 3h1v1h-1zM1 4h1v1h-1zM5 4h1v1h-1zM11 4h1v1h-1zM15 4h1v1h-1zM9 6h1v1h-1zM11 6h1v1h-1zM4 7h1v1h-1zM7 7h1v1h-1zM11 8h1v1h-1zM4 9h1v1h-1zM6 9h1v1h-1zM0 10h1v1h-1zM8 10h1v1h-1zM10 10h1v1h-1zM13 10h1v1h-1zM17 10h1v1h-1zM0 11h1v1h-1zM6 11h1v1h-1zM18 11h1v1h-1zM2 13h1v1h-1zM2 14h1v1h-1zM6 14h1v1h-1zM9 14h1v1h-1zM13 14h1v1h-1zM15 14h1v1h-1zM16 14h1v1h-1zM2 15h1v1h-1zM8 15h1v1h-1zM11 15h1v1h-1zM2 16h1v1h-1zM7 16h1v1h-1zM8 16h1v1h-1zM13 16h1v1h-1zM14 17h1v1h-1zM1 18h1v1h-1zM2 18h1v1h-1zM3 18h1v1h-1zM10 18h1v1h-1zM12 18h1v1h-1z"/><path fill="#019ff4" d="M3 0h1v1h-1zM14 0h1v1h-1zM0 1h1v1h-1zM3 1h1v1h-1zM8 1h1v1h-1zM10 3h1v1h-1zM14 3h1v1h-1zM15 3h1v1h-1zM18 3h1v1h-1zM16 5h1v1h-1zM8 6h1v1h-1zM12 6h1v1h-1zM15 7h1v1h-1zM17 7h1v1h-1zM6 8h1v1h-1zM13 8h1v1h-1zM18 8h1v1h-1zM14 9h1v1h-1zM15 9h1v1h-1zM11 10h1v1h-1zM16 10h1v1h-1zM14 11h1v1h-1zM15 11h1v1h-1zM3 12h1v1h-1zM11 12h1v1h-1zM16 12h1v1h-1zM0 13h1v1h-1zM7 13h1v1h-1zM9 13h1v1h-1zM8 14h1v1h-1zM11 14h1v1h-1zM14 14h1v1h-1zM9 15h1v1h-1zM1 16h1v1h-1zM18 17h1v1h-1zM4 18h1v1h-1z"/><path fill="#04e9e7" d="M5 1h1v1h-1zM3 3h1v1h-1zM6 3h1v1h-1zM8 9h1v1h-1zM10 9h1v1h-1zM12 11h1v1h-1zM5 13h1v1h-1zM13 13h1v1h-1zM12 14h1v1h-1zM15 15h1v1h-1zM17 15h1v1h-1zM2 17h1v1h-1z"/></pattern><pattern id="vsp" patternUnits="userSpaceOnUse" x="0" y="0" width="13" height="13"><path fill="#019ff4" d="M0 0h1v1h-1zM12 0h1v1h-1zM6 1h1v1h-1zM9 1h1v1h-1zM11 1h1v1h-1zM0 2h1v1h-1zM1 2h1v1h-1zM9 2h1v1h-1zM12 2h1v1h-1zM0 3h1v1h-1zM3 3h1v1h-1zM5 3h1v1h-1zM8 3h1v1h-1zM10 3h1v1h-1zM12 3h1v1h-1zM1 4h1v1h-1zM3 4h1v1h-1zM11 4h1v1h-1zM3 5h1v1h-1zM4 5h1v1h-1zM7 5h1v1h-1zM3 6h1v1h-1zM8 6h1v1h-1zM3 7h1v1h-1zM4 7h1v1h-1zM5 7h1v1h-1zM8 9h1v1h-1zM9 9h1v1h-1zM11 9h1v1h-1zM7 10h1v1h-1zM9 10h1v1h-1zM11 10h1v1h-1zM7 11h1v1h-1zM0 12h1v1h-1zM4 12h1v1h-1zM11 12h1v1h-1z"/><path fill="#04e9e7" d="M4 0h1v1h-1zM5 0h1v1h-1zM8 0h1v1h-1zM0 1h1v1h-1zM3 1h1v1h-1zM12 1h1v1h-1zM11 3h1v1h-1zM0 5h1v1h-1zM1 6h1v1h-1zM2 6h1v1h-1zM6 6h1v1h-1zM9 6h1v1h-1zM12 6h1v1h-1zM2 7h1v1h-1zM6 7h1v1h-1zM8 7h1v1h-1zM9 7h1v1h-1zM12 7h1v1h-1zM0 9h1v1h-1zM3 9h1v1h-1zM6 9h1v1h-1zM7 9h1v1h-1zM12 9h1v1h-1zM4 10h1v1h-1zM8 10h1v1h-1zM0 11h1v1h-1zM9 11h1v1h-1z"/><path fill="#0300f4" d="M10 0h1v1h-1zM2 1h1v1h-1zM3 2h1v1h-1zM5 2h1v1h-1zM9 4h1v1h-1zM10 5h1v1h-1zM11 5h1v1h-1zM7 6h1v1h-1zM1 7h1v1h-1zM1 8h1v1h-1zM8 8h1v1h-1zM9 8h1v1h-1zM2 10h1v1h-1zM5 10h1v1h-1zM6 10h1v1h-1zM3 11h1v1h-1zM8 11h1v1h-1zM6 12h1v1h-1z"/></pattern></defs>
<filter id="soft" x="0" y="0" width="550" height="461" filterUnits="userSpaceOnUse"><feConvolveMatrix order="3" kernelMatrix="1 2 1 2 8 2 1 2 1" divisor="20" edgeMode="none"/></filter>
<clipPath id="cl00"><rect x="32.5" y="19.5" width="228" height="123.0"/></clipPath>
<g clip-path="url(#cl00)"><g filter="url(#soft)"><polygon fill="url(#cb)" points="32,123.7 45,124.8 62,126 90,128 120,128.5 147,129 160,127.5 165,127 175,130.5 190,131 203.5,131 206,127 212,123.5 225,123 262,123 262,139.6 32,139.6"/><polygon fill="url(#lb)" points="32,123.7 40,124.2 40,126.5 32,126.5"/><polygon fill="url(#lb)" points="70,132.3 90,133 120,133.5 147,134 175,134.5 200,135.5 230,136.5 262,136.8 262,139.6 70,139.6"/><polygon fill="url(#bb)" points="32,132 50,132 70,132.3 85,132.6 95,133.5 100,135 98,137.5 100,139.4 32,139.4"/><polygon fill="url(#cb)" points="85,133.5 95,133.6 100,136 92,138.3 85,137"/><polygon fill="url(#gm)" points="32,133 50,133 62,133.5 67.5,134 67,136 62,138.3 50,138.3 32,138.3"/><polygon fill="url(#gd)" points="36,134 50,134.3 60,134.8 58,136.8 45,137 36,137"/><polygon fill="url(#bb)" points="162,126 170,126 174.2,129 174,136 168,138.3 162,135"/><polygon fill="url(#bsp)" points="152,131 165,130 178,132 178,138.5 160,138.5 152,136"/><polygon fill="url(#bb)" points="206.6,122 225,122 262,121.8 262,136.6 240,136.4 220,135.8 212,133 207,128"/><polygon fill="url(#gm)" points="214.5,123.7 240,123.6 262,123.6 262,134 240,134.2 222,133.5 216,129"/><polygon fill="url(#gd)" points="222,125.3 240,125.2 257,125.3 257,131.6 240,131.8 225,131.2"/><polygon fill="url(#gk)" points="235,126.5 252,126.5 252,130 237,130.3"/><polygon fill="url(#lb)" points="32,108 50,109 70,110 90,113 108,115 130,116.5 150,117.5 170,118 190,119 203,120 203,121 190,120.8 175,120.5 147,119.5 120,117 90,115.3 62,113 32,112.2"/><polygon fill="url(#bb)" points="150,105 160,106 170,108 180,111.5 195,114.5 209.9,115.2 212,117.5 209.9,119.6 200,119.6 180,119.3 165,118.6 150,118.5 130,117.5 108,116.3 90,114.4 75,111.5 62,109.6 50,111 32,111 32,102"/><polygon fill="url(#cb)" points="173,113.6 185,113.8 195,114.3 185,115 175,115"/><polygon fill="url(#vsp)" points="32,88.9 60,88.7 80,89 100,87.5 120,86.5 135,88 150,91 160,93 160,95.6 150,95 108,92.2 80,94.5 60,95 32,95"/><polygon fill="url(#bsp)" points="32,92.2 60,92.5 80,92 100,90 120,89.5 135,90.5 150,93 160,94.5 160,95.6 150,95 108,92.2 80,94.5 60,95 32,95"/><polygon fill="url(#bb)" points="155,93.8 175,94.4 230,94.6 262,95.2 262,96.5 230,96.2 175,96 155,95.5"/><polygon fill="url(#bb)" points="32,93.5 50,93.7 62,93.8 62,95 32,95"/><polygon fill="url(#bb)" points="156,101.5 175,101.6 210,101.8 241,101.8 262,100.5 262,96 241,96.5 241,104.3 210,104.2 175,104 160,103.5"/><polygon fill="url(#cb)" points="32,103.9 45,104 55,104.5 62,105.6 58,106.8 45,106.6 32,106.5"/><polygon fill="url(#gm)" points="33,107 38,107 38,109 33,109"/><polygon fill="#ffffff" points="65,107.6 75,108.3 88,110 92,112 80,112 68,110.5"/><polygon fill="url(#gm)" points="32,94.1 53,94.5 62,94.6 80,94.2 92,92.5 100,90.9 110,90.5 120,90.4 130,92 140,93.5 150,94.6 160,95.8 184,96 210,96.5 241,97.8 242,100.5 241,102.4 210,102.6 184,102.4 170,102.4 156.4,102.4 160,105 165,107.3 172,111 177.6,115 178.5,117.6 165,117.3 150,117 130,116.3 120,115.4 108,113.8 100,112.2 90,110.5 80,107.5 70,106 60,105.6 45,103 32,102.2"/><polygon fill="url(#gd)" points="36,96 52,96.5 58,100.5 50,101 36,100.6"/><polygon fill="url(#gd)" points="76,96 92,94.5 105,93 118,93 130,95 145,97.5 155,100 152,105 152,111 135,112 120,111 105,109.5 92,107 80,104.5 76,100"/><polygon fill="url(#gd)" points="170,97.5 200,98 230,98.8 238,100 230,101.3 200,101.2 170,100.8"/><polygon fill="url(#ys)" points="53,95.5 60,95.2 66,95.6 71,97.5 75.3,100 74.5,102.4 67,101.8 60,100.3 55,98.8"/><polygon fill="url(#ys)" points="107,94.7 112,93.4 118,92.8 126,93 132,94.8 137,97.5 142,100.5 148,104 147.5,107.3 141,106.5 134,104 128,102.5 121,101.3 113,101.3 108,101"/><polygon fill="#e5bc00" points="131,100.5 137,101.8 141,104 136,104.3 131,102.8"/><polygon fill="url(#bb)" points="76,104 80.7,104 80.7,106.2 76,106.2"/><polygon fill="url(#bb)" points="88,104 92.7,104 92.7,106.2 88,106.2"/><polygon fill="url(#bb)" points="111,104.5 122,104.3 128.7,104.8 128,106.6 121,106.9 111,106.4"/><polygon fill="#ffffff" points="156.5,103.6 175,104.1 210,104.3 241,104.4 262,101 262,118.5 250,115.5 230,113 214,114.5 200,113.6 180,110.8 170,107.8 160,105"/><polygon fill="url(#cb)" points="190,104.8 230,108.5 262,112.5 262,116.5 230,112.5 192,108"/><polygon fill="url(#cb)" points="203,110.5 235,113.8 262,117.3 262,120 235,117 205,113.3"/><polygon fill="url(#cb)" points="200,119 230,119.5 262,120 262,122 230,122 205,122"/><polygon fill="url(#bb)" points="212.8,121.9 262,121.9 262,124.1 212.8,124.1"/><polygon fill="url(#cb)" points="220,104.2 242.7,104.5 242.7,108.4 222,107"/><polygon fill="url(#bb)" points="32,65.4 40,65.7 50,66.8 57,67.5 66,68.2 70,69.5 78,71.5 85,73.8 92,76.3 95,79 90,79.8 80,79.6 70,79 60,78.2 50,77.2 40,76 32,75.4"/><polygon fill="url(#gm)" points="32,66.4 40,66.8 50,68.3 62,71.4 72,73.6 79,76 81.5,78.2 78,78.8 70,78.3 60,77.3 50,76.2 40,75.2 32,74.6"/><polygon fill="url(#gd)" points="36,68.5 50,70.5 62,73.2 72,75.5 70,77 60,76.4 48,75 36,73.5"/><polygon fill="url(#bb)" points="60,64 62,62.5 65,62.8 66,67.5 60,67.5"/><polygon fill="url(#gm)" points="61,65 64,64.5 64.5,67 61,67.3"/><polygon fill="url(#bb)" points="75,67.5 85,66.3 95,65.8 98,66 98,72.2 92,73 85,73.3 78,72"/><polygon fill="url(#bsp)" points="98,65.6 105,65.4 110,66 108,70 98,71"/><polygon fill="url(#gm)" points="83.8,68.4 92,68.4 98,69 98,72 92,72.2 84,72.2"/><polygon fill="url(#vsp)" points="92.5,69.3 110,69 122,72 122,84 140,85 140,88.4 118,88.4 105,85 95,84.5 92.5,76"/><polygon fill="url(#bsp)" points="98,65 108,65 108,69.3 98,69.3"/><polygon fill="#ffffff" points="91.5,73.5 105.6,73.3 105.6,79.8 91.5,79.8"/><polygon fill="url(#bb)" points="110,72.5 118,73 130,73.6 143,74.5 150,75.3 156,76 156,78.5 143,77.8 130,77.4 118,79.2 110,78"/><polygon fill="url(#lbs)" points="140,75.3 156,75.3 158,78.5 140,78.5"/><polygon fill="url(#bsp)" points="116,84 140,84 140,86.7 116,86.7"/><polygon fill="url(#mixA)" points="138.7,80.2 160,80 180,80 200,80 230,80 262,80 262,88.4 230,88.2 200,88.2 175,88 150,87.5 138.7,87.3"/><polygon fill="url(#lbs)" points="138.7,79.6 160,79.6 160,81.3 138.7,81.3"/><polygon fill="url(#gm)" points="150.7,81.3 165,81.3 178,81.5 178,84.5 165,84.5 150.7,84.3"/><polygon fill="url(#gm)" points="200,83.5 215,83 230,83.8 245,83.2 262,83 262,86.2 245,86.5 230,86 215,86.4 200,86"/><polygon fill="url(#bb)" points="243.6,60.6 250,60.2 262,59.8 262,63.6 250,63.6"/><polygon fill="url(#gm)" points="250,61 262,60.6 262,62.8 252,63"/><polygon fill="url(#bb)" points="249.4,73 256,72.6 262,72.6 262,77.6 255,77"/><polygon fill="url(#gm)" points="253,74 262,73.6 262,76.6 256,76"/></g></g>
<rect x="32.5" y="19.5" width="228" height="123.0" fill="none" stroke="#707070" stroke-width="1.25"/>
<path d="M88.8 142.5v-2.5M88.8 19.5v2.5M166.3 142.5v-2.5M166.3 19.5v2.5M243.8 142.5v-2.5M243.8 19.5v2.5M32.5 101.5h2.5M260.5 101.5h-2.5M32.5 60.5h2.5M260.5 60.5h-2.5" stroke="#707070" stroke-width="1" fill="none"/>
<text x="146.5" y="14.9" font-size="9.8" text-anchor="middle">(a) Results of IAP cloud radar</text>
<text x="29" y="146.3" font-size="9.3" text-anchor="end">0</text>
<text x="29" y="105.3" font-size="9.3" text-anchor="end">5</text>
<text x="29" y="64.3" font-size="9.3" text-anchor="end">10</text>
<text x="29" y="23.3" font-size="9.3" text-anchor="end">15</text>
<text transform="translate(13.8,81.5) rotate(-90)" font-size="10.6" text-anchor="middle">Height (km)</text>
<clipPath id="cl01"><rect x="265.5" y="19.5" width="228" height="123.0"/></clipPath>
<g clip-path="url(#cl01)"><g filter="url(#soft)"><polygon fill="url(#gm)" stroke="url(#bsp)" stroke-width="1.0" stroke-linejoin="round" points="266,68.3 280,69 300,72 314,76.2 315,77.8 300,77.8 280,75.6 266,74.2"/><polygon fill="url(#gd)" points="268,70 280,70.7 295,72.5 306,75.2 295,76 280,74.2 268,72.5"/><polygon fill="url(#gm)" stroke="url(#bsp)" stroke-width="1.2" stroke-linejoin="round" points="265.5,94.2 287,93.7 300,94.8 309,95.5 320,95 333,92.8 345,91.3 362,91.5 370,93 376,95.5 379.5,97 400,96.8 420,97.2 450,97.7 474.5,98.7 475.5,101 450,103.5 423,104.4 410,104 400,102.7 380.5,102.7 390,105 396,107.5 399.5,109.8 393,111.5 400,114.2 408,116.3 416.4,117.4 416.8,118.9 400,119.3 380,119 360,117.2 341,114.5 320,109.7 300,106.2 280,104.5 265.5,103.5"/><polygon fill="url(#gd)" points="268,95.5 290,95.6 315,96 332,94.5 345,93 362,93.3 370,95 376,98.5 372,102.5 360,103.5 345,103 330,103 315,102.5 300,102 285,101.5 268,101"/><polygon fill="url(#gd)" points="335,108.5 350,110 370,112 388,114.5 394,116 380,116 360,114.5 340,112 330,110.5"/><polygon fill="url(#ys)" points="278,97.5 285,96.5 292,96 300,98 306.5,101.3 300,102.3 290,101.5 282,99"/><polygon fill="url(#ys)" points="345.8,94 354,93.4 360,94.5 363,96.5 360,97.8 352,97.3 346,96"/><polygon fill="url(#ys)" points="350.5,98.4 358,98.4 366,100.3 373,102.6 378.3,105.2 375,106 368,104.6 360,102.3 353,100.6"/><polygon fill="#e5bc00" points="366,102.5 372,103.2 375,104.8 369,104.6"/><polygon fill="url(#bsp)" points="339,104.6 350,104.5 360,105 372,106.8 385,108.6 395,110.6 385,109.8 372,108.2 360,107.3 350,106.6 339,106.2"/><polygon fill="url(#gd)" points="400,98.5 430,99 460,99.5 470,100.3 450,102 420,102 400,100.5"/><polygon fill="url(#bb)" points="349,104.4 358,104.2 359,106 349,106.2"/><polygon fill="url(#bsp)" points="265.5,131.5 290,131.8 320,133 320,134.5 290,133.5 265.5,133.2"/><polygon fill="url(#bb)" points="300,133.4 314,134.5 330,135 345,135.8 345,139.5 300,139.6"/><polygon fill="url(#lbs)" points="345,135.8 380,136.5 420,137.5 420,139.5 345,139.6"/><polygon fill="url(#gm)" points="265.5,133 290,133.3 305,134.5 314,139.5 265.5,139.5"/><polygon fill="url(#gd)" points="268,134.5 285,135 300,136.5 300,139 268,139"/><polygon fill="url(#bsp)" points="438.5,125 447,124.3 465,124.2 493.5,124.2 493.5,137 480,135.5 470,133.6 458,130.5 447,127.8 440,129"/><polygon fill="url(#gm)" points="447,124.9 465,124.8 493.5,124.8 493.5,136 480,134.8 470,133 458,130 448,127"/><polygon fill="url(#gd)" points="462,128 475,127.3 493.5,127.2 493.5,133.5 480,133.3 468,131.5"/><polygon fill="url(#gm)" points="481,85.6 488,84.2 493.5,84.2 493.5,87.6 484,87.4"/><polygon fill="url(#gm)" points="392.5,81.5 395,81.3 395.2,82.8 392.6,82.9"/><polygon fill="url(#gm)" points="491.5,70.5 493.5,70.5 493.5,73 491.5,73"/><polygon fill="url(#gm)" points="441,84.6 452,83.9 464.5,84.6 464.5,87.4 450,87.6 441,87.2"/><polygon fill="url(#gd)" points="446,85.8 458,85.6 458,86.8 446,86.9"/><polygon fill="url(#bsp)" points="266,107 272,106.8 278,107.5 276,110 266,110"/><polygon fill="url(#lbs)" points="415,138.5 450,138.5 450,140 415,140"/><polygon fill="url(#lbs)" points="480,138.5 493,138.5 493,140 480,140"/><rect x="428.5" y="82.3" width="40.2" height="6.1" fill="none" stroke="#f02828" stroke-width="1"/></g></g>
<rect x="265.5" y="19.5" width="228" height="123.0" fill="none" stroke="#707070" stroke-width="1.25"/>
<path d="M321.8 142.5v-2.5M321.8 19.5v2.5M399.3 142.5v-2.5M399.3 19.5v2.5M476.8 142.5v-2.5M476.8 19.5v2.5M265.5 101.5h2.5M493.5 101.5h-2.5M265.5 60.5h2.5M493.5 60.5h-2.5" stroke="#707070" stroke-width="1" fill="none"/>
<text x="379.5" y="14.9" font-size="9.8" text-anchor="middle">(b) Results of TJ-II cloud radar from our method</text>
<clipPath id="cl10"><rect x="32.5" y="161.5" width="228" height="123.0"/></clipPath>
<g clip-path="url(#cl10)"><g filter="url(#soft)"><polygon fill="url(#gm)" stroke="url(#bsp)" stroke-width="1.0" stroke-linejoin="round" points="33.0,210.3 47.0,211.0 67.0,214.0 81.0,218.2 82.0,219.8 67.0,219.8 47.0,217.6 33.0,216.2"/><polygon fill="url(#gd)" points="35.0,212.0 47.0,212.7 62.0,214.5 73.0,217.2 62.0,218.0 47.0,216.2 35.0,214.5"/><polygon fill="url(#gm)" stroke="url(#bsp)" stroke-width="1.2" stroke-linejoin="round" points="32.5,236.2 54.0,235.7 67.0,236.8 76.0,237.5 87.0,237.0 100.0,234.8 112.0,233.3 129.0,233.5 137.0,235.0 143.0,237.5 146.5,239.0 148.0,241.0 149.0,244.5 154.0,247.0 159.0,248.5 164.5,250.8 159.5,252.2 164.0,256.5 163.8,260.4 153.0,260.3 139.7,259.0 125.5,257.2 112.5,255.2 87.0,250.4 67.0,247.0 54.0,245.8 32.5,244.8"/><polygon fill="url(#gd)" points="35.0,237.5 57.0,237.6 82.0,238.0 99.0,236.5 112.0,235.0 129.0,235.3 137.0,237.0 143.0,240.5 139.0,244.5 127.0,245.5 112.0,245.0 97.0,245.0 82.0,244.5 67.0,244.0 52.0,243.5 35.0,243.0"/><polygon fill="url(#gd)" points="102.0,250.5 117.0,252.0 137.0,254.0 155.0,256.5 161.0,258.0 147.0,258.0 127.0,256.5 107.0,254.0 97.0,252.5"/><polygon fill="url(#ys)" points="45.0,239.5 52.0,238.5 59.0,238.0 67.0,240.0 73.5,243.3 67.0,244.3 57.0,243.5 49.0,241.0"/><polygon fill="url(#ys)" points="112.8,236.0 121.0,235.4 127.0,236.5 130.0,238.5 127.0,239.8 119.0,239.3 113.0,238.0"/><polygon fill="url(#ys)" points="117.5,240.4 125.0,240.4 133.0,242.3 140.0,244.6 145.3,247.2 142.0,248.0 135.0,246.6 127.0,244.3 120.0,242.6"/><polygon fill="#e5bc00" points="133.0,244.5 139.0,245.2 142.0,246.8 136.0,246.6"/><polygon fill="url(#bsp)" points="127.0,247.6 139.0,249.3 152.0,251.0 161.0,253.0 152.0,252.0 139.0,250.6 127.0,249.2"/><polygon fill="#ffffff" points="106.0,246.8 117.0,246.8 127.0,247.4 124.0,248.8 117.0,248.9 106.0,248.4"/><polygon fill="url(#gm)" stroke="url(#bsp)" stroke-width="0.8" stroke-linejoin="round" points="146.0,240.2 160.7,240.2 160.7,242.5 146.0,242.7"/><polygon fill="url(#gm)" points="160.0,240.8 169.0,240.8 169.0,241.8 160.0,241.8"/><polygon fill="url(#gm)" stroke="url(#bsp)" stroke-width="1.0" stroke-linejoin="round" points="168.5,240.2 187.0,240.3 217.0,240.7 240.7,241.6 240.7,243.5 217.0,245.1 187.0,245.3 168.5,243.6"/><polygon fill="url(#gd)" points="177.0,241.5 207.0,241.8 232.0,242.3 207.0,244.0 177.0,243.5"/><polygon fill="url(#bb)" points="32.5,274.3 57.0,274.7 77.0,276.0 89.0,278.0 90.0,282.0 32.5,282.0"/><polygon fill="url(#gm)" points="32.5,274.9 57.0,275.3 75.0,276.8 79.0,279.0 77.0,281.8 32.5,281.8"/><polygon fill="url(#gd)" points="35.0,276.5 52.0,277.0 67.0,278.5 67.0,281.0 35.0,281.0"/><polygon fill="url(#gm)" stroke="url(#bb)" stroke-width="1.6" stroke-linejoin="round" points="213.0,269.2 222.0,268.0 234.0,267.3 260.5,267.2 260.5,277.0 239.0,276.3 225.0,273.5"/><polygon fill="url(#gd)" points="229.0,270.0 242.0,269.3 260.5,269.2 260.5,275.5 247.0,275.3 235.0,273.5"/></g></g>
<rect x="32.5" y="161.5" width="228" height="123.0" fill="none" stroke="#707070" stroke-width="1.25"/>
<path d="M88.8 284.5v-2.5M88.8 161.5v2.5M166.3 284.5v-2.5M166.3 161.5v2.5M243.8 284.5v-2.5M243.8 161.5v2.5M32.5 243.5h2.5M260.5 243.5h-2.5M32.5 202.5h2.5M260.5 202.5h-2.5" stroke="#707070" stroke-width="1" fill="none"/>
<text x="146.5" y="156.9" font-size="9.8" text-anchor="middle">(c) Results of TJ-II cloud radar from Ge's</text>
<text x="29" y="288.3" font-size="9.3" text-anchor="end">0</text>
<text x="29" y="247.3" font-size="9.3" text-anchor="end">5</text>
<text x="29" y="206.3" font-size="9.3" text-anchor="end">10</text>
<text x="29" y="165.3" font-size="9.3" text-anchor="end">15</text>
<text transform="translate(13.8,223.5) rotate(-90)" font-size="10.6" text-anchor="middle">Height (km)</text>
<clipPath id="cl11"><rect x="265.5" y="161.5" width="228" height="123.0"/></clipPath>
<g clip-path="url(#cl11)"><g filter="url(#soft)"><polygon fill="url(#gm)" stroke="url(#bsp)" stroke-width="0.8" stroke-linejoin="round" points="272.0,210.6 290.0,213.0 300.0,215.0 309.0,217.6 309.5,218.8 300.0,218.3 290.0,217.2 272.0,215.6"/><polygon fill="url(#gm)" points="266.4,210.4 270.7,212.0 270.7,214.7 266.4,214.7"/><polygon fill="url(#gd)" points="268.0,212.0 280.0,212.7 295.0,214.5 306.0,217.2 295.0,218.0 280.0,216.2 268.0,214.5"/><polygon fill="url(#gm)" stroke="url(#bsp)" stroke-width="1.2" stroke-linejoin="round" points="265.5,236.2 287.0,235.7 300.0,236.8 309.0,237.5 320.0,237.0 333.0,234.8 345.0,233.3 362.0,233.5 366.0,234.5 372.0,238.0 377.0,241.5 382.0,245.0 386.0,247.5 388.0,249.0 384.0,250.2 392.0,253.0 396.0,256.0 397.0,258.5 391.0,259.6 372.7,258.4 345.5,255.0 320.0,250.0 300.0,246.4 280.0,245.8 265.5,245.4"/><polygon fill="url(#gd)" points="268.0,237.5 290.0,237.6 315.0,238.0 332.0,236.5 345.0,235.0 362.0,235.3 370.0,237.0 376.0,240.5 372.0,244.5 360.0,245.5 345.0,245.0 330.0,245.0 315.0,244.5 300.0,244.0 285.0,243.5 268.0,243.0"/><polygon fill="url(#gd)" points="335.0,250.5 350.0,252.0 370.0,254.0 388.0,256.5 394.0,258.0 380.0,258.0 360.0,256.5 340.0,254.0 330.0,252.5"/><polygon fill="url(#ys)" points="278.0,239.5 285.0,238.5 292.0,238.0 300.0,240.0 306.5,243.3 300.0,244.3 290.0,243.5 282.0,241.0"/><polygon fill="url(#ys)" points="345.8,236.0 354.0,235.4 360.0,236.5 363.0,238.5 360.0,239.8 352.0,239.3 346.0,238.0"/><polygon fill="url(#ys)" points="350.5,240.4 358.0,240.4 366.0,242.3 373.0,244.6 378.3,247.2 375.0,248.0 368.0,246.6 360.0,244.3 353.0,242.6"/><polygon fill="#e5bc00" points="366.0,244.5 372.0,245.2 375.0,246.8 369.0,246.6"/><polygon fill="url(#bsp)" points="360.0,247.6 372.0,249.3 385.0,251.0 394.0,253.0 385.0,252.0 372.0,250.6 360.0,249.2"/><polygon fill="#ffffff" points="339.0,246.8 350.0,246.8 360.0,247.4 357.0,248.8 350.0,248.9 339.0,248.4"/><polygon fill="url(#gm)" stroke="url(#bsp)" stroke-width="0.8" stroke-linejoin="round" points="389.0,239.4 395.0,239.4 395.0,242.5 389.0,242.5"/><polygon fill="url(#gm)" stroke="url(#bsp)" stroke-width="1.0" stroke-linejoin="round" points="407.6,239.7 420.0,239.8 450.0,240.3 468.7,241.1 468.5,245.0 450.0,245.4 420.0,245.7 407.6,246.0"/><polygon fill="url(#gd)" points="412.0,241.5 440.0,241.8 462.0,242.3 440.0,244.0 412.0,244.0"/><polygon fill="url(#bb)" points="265.5,273.8 290.0,274.3 311.0,276.0 325.0,277.5 341.0,278.5 341.0,282.0 265.5,282.0"/><polygon fill="url(#gm)" points="265.5,274.6 290.0,275.0 312.0,277.0 314.0,281.8 265.5,281.8"/><polygon fill="url(#gd)" points="268.0,276.5 285.0,277.0 300.0,278.5 300.0,281.0 268.0,281.0"/><polygon fill="url(#lb)" points="318.0,280.0 330.0,279.8 341.0,280.5 341.0,282.0 318.0,282.0"/><polygon fill="url(#gm)" stroke="url(#bb)" stroke-width="1.6" stroke-linejoin="round" points="447.0,269.2 455.0,267.5 467.0,266.8 493.5,266.7 493.5,277.0 472.0,276.3 458.0,273.5"/><polygon fill="url(#gd)" points="462.0,270.0 475.0,269.3 493.5,269.2 493.5,275.5 480.0,275.3 468.0,273.5"/><polygon fill="url(#bb)" points="266.0,249.0 267.6,249.0 267.6,250.6 266.0,250.6"/><polygon fill="url(#bb)" points="268.0,250.0 269.6,250.0 269.6,251.6 268.0,251.6"/><polygon fill="url(#gd)" points="456.0,229.0 457.6,229.0 457.6,230.6 456.0,230.6"/><polygon fill="url(#gm)" points="464.0,230.5 465.6,230.5 465.6,232.1 464.0,232.1"/><polygon fill="url(#gm)" points="490.0,229.0 491.6,229.0 491.6,230.6 490.0,230.6"/><polygon fill="url(#gm)" points="492.0,221.0 493.6,221.0 493.6,222.6 492.0,222.6"/><polygon fill="url(#bb)" points="276.8,223.8 278.4,223.8 278.4,225.4 276.8,225.4"/><polygon fill="url(#bb)" points="363.3,221.7 364.9,221.7 364.9,223.3 363.3,223.3"/><polygon fill="url(#bb)" points="386.9,224.6 388.5,224.6 388.5,226.2 386.9,226.2"/><polygon fill="url(#bb)" points="309.3,270.6 310.9,270.6 310.9,272.2 309.3,272.2"/><polygon fill="url(#bb)" points="448.3,246.8 449.9,246.8 449.9,248.4 448.3,248.4"/><polygon fill="url(#bb)" points="463.0,228.8 464.6,228.8 464.6,230.4 463.0,230.4"/><polygon fill="url(#bb)" points="265.5,253.0 267.1,253.0 267.1,254.6 265.5,254.6"/><polygon fill="url(#gm)" points="330.0,211.0 331.6,211.0 331.6,212.6 330.0,212.6"/><polygon fill="url(#cb)" points="412.0,280.5 413.6,280.5 413.6,282.1 412.0,282.1"/><polygon fill="url(#lb)" points="440.0,281.0 441.6,281.0 441.6,282.6 440.0,282.6"/><polygon fill="url(#cb)" points="485.0,281.0 486.6,281.0 486.6,282.6 485.0,282.6"/></g></g>
<rect x="265.5" y="161.5" width="228" height="123.0" fill="none" stroke="#707070" stroke-width="1.25"/>
<path d="M321.8 284.5v-2.5M321.8 161.5v2.5M399.3 284.5v-2.5M399.3 161.5v2.5M476.8 284.5v-2.5M476.8 161.5v2.5M265.5 243.5h2.5M493.5 243.5h-2.5M265.5 202.5h2.5M493.5 202.5h-2.5" stroke="#707070" stroke-width="1" fill="none"/>
<text x="379.5" y="156.9" font-size="9.8" text-anchor="middle">(d) Results of TJ-II cloud radar from Doppler only</text>
<clipPath id="cl20"><rect x="32.5" y="303" width="228" height="122.5"/></clipPath>
<g clip-path="url(#cl20)"><g filter="url(#soft)"><polygon fill="url(#gs)" points="33.0,390.0 39.0,389.9 45.0,390.6 43.0,393.0 33.0,393.0"/><polygon fill="url(#gs)" points="33.0,351.6 47.0,352.3 67.0,355.3 81.0,359.5 82.0,361.1 67.0,361.1 47.0,358.9 33.0,357.5"/><polygon fill="url(#gs)" points="32.5,377.5 54.0,377.0 67.0,378.1 76.0,378.8 87.0,378.3 100.0,376.1 112.0,374.6 129.0,374.8 137.0,376.3 143.0,378.8 146.5,380.3 167.0,380.1 187.0,380.5 217.0,381.0 241.5,382.0 242.5,384.3 217.0,386.8 190.0,387.7 177.0,387.3 167.0,386.0 147.5,386.0 157.0,388.3 163.0,390.8 166.5,393.1 160.0,394.8 167.0,397.5 175.0,399.6 183.4,400.7 183.8,402.2 167.0,402.6 147.0,402.3 127.0,400.5 108.0,397.8 87.0,393.0 67.0,389.5 47.0,387.8 32.5,386.8"/><polygon fill="url(#gs)" points="32.5,415.3 57.0,415.8 81.0,417.8 97.0,417.8 127.0,418.8 157.0,419.8 187.0,420.8 188.0,423.1 67.0,423.3 32.5,423.3"/><polygon fill="url(#gs)" points="205.5,408.3 214.0,407.6 232.0,407.5 260.5,407.5 260.5,420.3 247.0,418.8 237.0,416.9 225.0,413.8 214.0,411.1 207.0,412.3"/><polygon fill="url(#gs)" points="248.0,368.9 255.0,367.5 260.5,367.5 260.5,370.9 251.0,370.7"/><polygon fill="url(#gs)" points="159.5,364.8 162.0,364.6 162.2,366.1 159.6,366.2"/><polygon fill="url(#gs)" points="258.5,353.8 260.5,353.8 260.5,356.3 258.5,356.3"/><polygon fill="url(#gs)" points="208.0,368.3 219.0,367.9 230.6,368.5 230.6,370.7 217.0,370.9 208.0,370.5"/><polygon fill="url(#gs)" points="199.0,369.3 203.0,369.1 203.0,370.3 199.0,370.3"/><polygon fill="url(#rm)" points="33.5,352.1 47.0,352.8 67.0,355.8 80.0,359.8 80.0,360.9 67.0,360.7 47.0,358.9 33.5,357.3"/><polygon fill="url(#rm)" points="146.0,381.7 160.7,381.7 160.7,383.8 146.0,384.0"/><polygon fill="url(#rm)" points="168.5,381.8 187.0,381.9 217.0,382.3 240.0,383.3 240.0,384.8 217.0,386.3 187.0,386.4 168.5,384.8"/><polygon fill="url(#rm)" points="32.5,377.5 54.0,377.0 67.0,378.1 76.0,378.8 87.0,378.3 100.0,376.1 112.0,374.6 129.0,374.8 137.0,376.3 143.0,378.8 146.5,380.3 148.0,382.3 149.0,385.8 154.0,388.3 159.0,389.8 164.5,392.1 159.5,393.5 164.0,397.8 163.8,401.7 153.0,401.6 139.7,400.3 125.5,398.5 112.5,396.5 87.0,391.7 67.0,388.3 54.0,387.1 32.5,386.1"/><polygon fill="url(#rm)" points="32.5,416.9 57.0,417.2 77.0,418.3 88.0,419.6 89.0,423.1 32.5,423.1"/><polygon fill="url(#rm)" points="215.0,410.8 222.0,409.5 234.0,408.8 260.5,408.8 260.5,418.8 239.0,418.1 225.0,415.3"/><polygon fill="url(#gs)" points="83.6,385.9 97.0,386.9 111.0,387.9 125.0,389.3 139.0,391.6 152.0,393.6 161.0,395.1 152.0,394.5 139.0,392.8 125.0,390.6 111.0,389.3 97.0,387.9 83.6,386.9"/></g></g>
<rect x="32.5" y="303" width="228" height="122.5" fill="none" stroke="#707070" stroke-width="1.25"/>
<path d="M88.8 425.5v-2.5M88.8 303v2.5M166.3 425.5v-2.5M166.3 303v2.5M243.8 425.5v-2.5M243.8 303v2.5M32.5 384.7h2.5M260.5 384.7h-2.5M32.5 343.8h2.5M260.5 343.8h-2.5" stroke="#707070" stroke-width="1" fill="none"/>
<text x="146.5" y="298.4" font-size="9.8" text-anchor="middle">(e) Comparision between ours and Ge's</text>
<text x="29" y="429.3" font-size="9.3" text-anchor="end">0</text>
<text x="29" y="388.5" font-size="9.3" text-anchor="end">5</text>
<text x="29" y="347.6" font-size="9.3" text-anchor="end">10</text>
<text x="29" y="306.8" font-size="9.3" text-anchor="end">15</text>
<text transform="translate(13.8,364.75) rotate(-90)" font-size="10.6" text-anchor="middle">Height (km)</text>
<text x="88.8" y="439.6" font-size="9.3" text-anchor="middle">12:40</text>
<text x="166.3" y="439.6" font-size="9.3" text-anchor="middle">12:50</text>
<text x="243.8" y="439.6" font-size="9.3" text-anchor="middle">13:00</text>
<text x="146.5" y="453.5" font-size="10.5" text-anchor="middle">Time (UTC+8)</text>
<clipPath id="cl21"><rect x="265.5" y="303" width="228" height="122.5"/></clipPath>
<g clip-path="url(#cl21)"><g filter="url(#soft)"><polygon fill="url(#gs)" points="266.0,390.0 272.0,389.9 278.0,390.6 276.0,393.0 266.0,393.0"/><polygon fill="url(#gs)" points="266.0,351.6 280.0,352.3 300.0,355.3 314.0,359.5 315.0,361.1 300.0,361.1 280.0,358.9 266.0,357.5"/><polygon fill="url(#gs)" points="265.5,377.5 287.0,377.0 300.0,378.1 309.0,378.8 320.0,378.3 333.0,376.1 345.0,374.6 362.0,374.8 370.0,376.3 376.0,378.8 379.5,380.3 400.0,380.1 420.0,380.5 450.0,381.0 474.5,382.0 475.5,384.3 450.0,386.8 423.0,387.7 410.0,387.3 400.0,386.0 380.5,386.0 390.0,388.3 396.0,390.8 399.5,393.1 393.0,394.8 400.0,397.5 408.0,399.6 416.4,400.7 416.8,402.2 400.0,402.6 380.0,402.3 360.0,400.5 341.0,397.8 320.0,393.0 300.0,389.5 280.0,387.8 265.5,386.8"/><polygon fill="url(#gs)" points="265.5,415.3 290.0,415.8 314.0,417.8 330.0,417.8 360.0,418.8 390.0,419.8 420.0,420.8 421.0,423.1 300.0,423.3 265.5,423.3"/><polygon fill="url(#gs)" points="438.5,408.3 447.0,407.6 465.0,407.5 493.5,407.5 493.5,420.3 480.0,418.8 470.0,416.9 458.0,413.8 447.0,411.1 440.0,412.3"/><polygon fill="url(#gs)" points="481.0,368.9 488.0,367.5 493.5,367.5 493.5,370.9 484.0,370.7"/><polygon fill="url(#gs)" points="392.5,364.8 395.0,364.6 395.2,366.1 392.6,366.2"/><polygon fill="url(#gs)" points="491.5,353.8 493.5,353.8 493.5,356.3 491.5,356.3"/><polygon fill="url(#gs)" points="441.0,368.3 452.0,367.9 463.6,368.5 463.6,370.7 450.0,370.9 441.0,370.5"/><polygon fill="url(#gs)" points="432.0,369.3 436.0,369.1 436.0,370.3 432.0,370.3"/><polygon fill="url(#rm)" points="272.5,352.3 290.0,354.6 300.0,356.6 308.5,359.1 308.5,359.8 300.0,359.3 290.0,358.2 272.5,356.6"/><polygon fill="url(#rm)" points="266.6,352.1 270.5,353.5 270.5,355.8 266.6,355.8"/><polygon fill="url(#rm)" points="389.0,380.9 395.0,380.9 395.0,383.7 389.0,383.7"/><polygon fill="url(#rm)" points="408.0,381.5 420.0,381.5 450.0,381.9 468.0,382.7 468.0,385.9 450.0,386.3 420.0,386.6 408.0,386.8"/><polygon fill="url(#rm)" points="265.5,377.5 287.0,377.0 300.0,378.1 309.0,378.8 320.0,378.3 333.0,376.1 345.0,374.6 362.0,374.8 366.0,375.8 372.0,379.3 377.0,382.8 382.0,386.3 386.0,388.8 388.0,390.3 384.0,391.5 392.0,394.3 396.0,397.3 397.0,399.8 391.0,400.9 372.7,399.7 345.5,396.3 320.0,391.3 300.0,387.7 280.0,387.1 265.5,386.7"/><polygon fill="url(#rm)" points="265.5,417.3 290.0,417.5 308.0,418.8 311.0,420.3 310.0,423.1 265.5,423.1"/><polygon fill="url(#rm)" points="447.0,410.8 455.0,409.1 467.0,408.3 493.5,408.3 493.5,418.8 472.0,418.1 458.0,415.3"/><polygon fill="url(#gs)" points="316.6,385.9 330.0,386.9 344.0,387.9 358.0,389.3 372.0,391.6 385.0,393.6 394.0,395.1 385.0,394.5 372.0,392.8 358.0,390.6 344.0,389.3 330.0,387.9 316.6,386.9"/><polygon fill="url(#bb)" points="276.8,365.1 278.3,365.1 278.3,366.6 276.8,366.6"/><polygon fill="url(#bb)" points="363.3,363.0 364.8,363.0 364.8,364.5 363.3,364.5"/><polygon fill="url(#bb)" points="386.9,365.9 388.4,365.9 388.4,367.4 386.9,367.4"/><polygon fill="url(#bb)" points="309.3,411.9 310.8,411.9 310.8,413.4 309.3,413.4"/><polygon fill="url(#bb)" points="448.3,388.1 449.8,388.1 449.8,389.6 448.3,389.6"/><polygon fill="url(#bb)" points="463.0,370.1 464.5,370.1 464.5,371.6 463.0,371.6"/></g></g>
<rect x="265.5" y="303" width="228" height="122.5" fill="none" stroke="#707070" stroke-width="1.25"/>
<path d="M321.8 425.5v-2.5M321.8 303v2.5M399.3 425.5v-2.5M399.3 303v2.5M476.8 425.5v-2.5M476.8 303v2.5M265.5 384.7h2.5M493.5 384.7h-2.5M265.5 343.8h2.5M493.5 343.8h-2.5" stroke="#707070" stroke-width="1" fill="none"/>
<text x="379.5" y="298.4" font-size="9.8" text-anchor="middle">(f) Comparision between ours and Doppler only</text>
<text x="321.8" y="439.6" font-size="9.3" text-anchor="middle">12:40</text>
<text x="399.3" y="439.6" font-size="9.3" text-anchor="middle">12:50</text>
<text x="476.8" y="439.6" font-size="9.3" text-anchor="middle">13:00</text>
<text x="379.5" y="453.5" font-size="10.5" text-anchor="middle">Time (UTC+8)</text>
<rect x="498.5" y="264.74" width="8" height="19.16" fill="#04e9e7"/>
<rect x="498.5" y="245.87" width="8" height="19.16" fill="#019ff4"/>
<rect x="498.5" y="227.01" width="8" height="19.16" fill="#0300f4"/>
<rect x="498.5" y="208.14" width="8" height="19.16" fill="#02fd02"/>
<rect x="498.5" y="189.28" width="8" height="19.16" fill="#01c501"/>
<rect x="498.5" y="170.41" width="8" height="19.16" fill="#008e00"/>
<rect x="498.5" y="151.55" width="8" height="19.16" fill="#fdf802"/>
<rect x="498.5" y="132.69" width="8" height="19.16" fill="#e5bc00"/>
<rect x="498.5" y="113.82" width="8" height="19.16" fill="#fd9500"/>
<rect x="498.5" y="94.96" width="8" height="19.16" fill="#fd0000"/>
<rect x="498.5" y="76.09" width="8" height="19.16" fill="#d40000"/>
<rect x="498.5" y="57.23" width="8" height="19.16" fill="#bc0000"/>
<rect x="498.5" y="38.36" width="8" height="19.16" fill="#f800fd"/>
<rect x="498.5" y="19.50" width="8" height="19.16" fill="#9854c6"/>
<rect x="498.5" y="19.5" width="8" height="264.1" fill="none" stroke="#707070" stroke-width="0.8"/>
<text x="510.9" y="269.1" font-size="9.5">-30</text>
<text x="510.9" y="231.4" font-size="9.5">-20</text>
<text x="510.9" y="193.7" font-size="9.5">-10</text>
<text x="510.9" y="156.0" font-size="9.5">0</text>
<text x="510.9" y="118.2" font-size="9.5">10</text>
<text x="510.9" y="80.5" font-size="9.5">20</text>
<text x="510.9" y="42.8" font-size="9.5">30</text>
<path d="M506.5 264.7h-2M506.5 227.0h-2M506.5 189.3h-2M506.5 151.6h-2M506.5 113.8h-2M506.5 76.1h-2M506.5 38.4h-2" stroke="#707070" stroke-width="1"/>
<text x="494" y="14" font-size="9.5">dBZ</text>
<rect x="498.6" y="316.7" width="7.8" height="6.7" fill="#0808f8" stroke="#111" stroke-width="1"/>
<text x="496" y="332.3" font-size="8.5">Only Ge/</text>
<text x="496" y="343.9" font-size="8.5">Doppler only</text>
<rect x="498.6" y="357.8" width="7.8" height="6.7" fill="#00a000" stroke="#111" stroke-width="1"/>
<text x="496" y="373.5" font-size="8.5">Only ours</text>
<rect x="498.6" y="398.6" width="7.8" height="6.7" fill="#a00000" stroke="#111" stroke-width="1"/>
<text x="496" y="414.7" font-size="8.5">Both</text>
</svg></body></html>
